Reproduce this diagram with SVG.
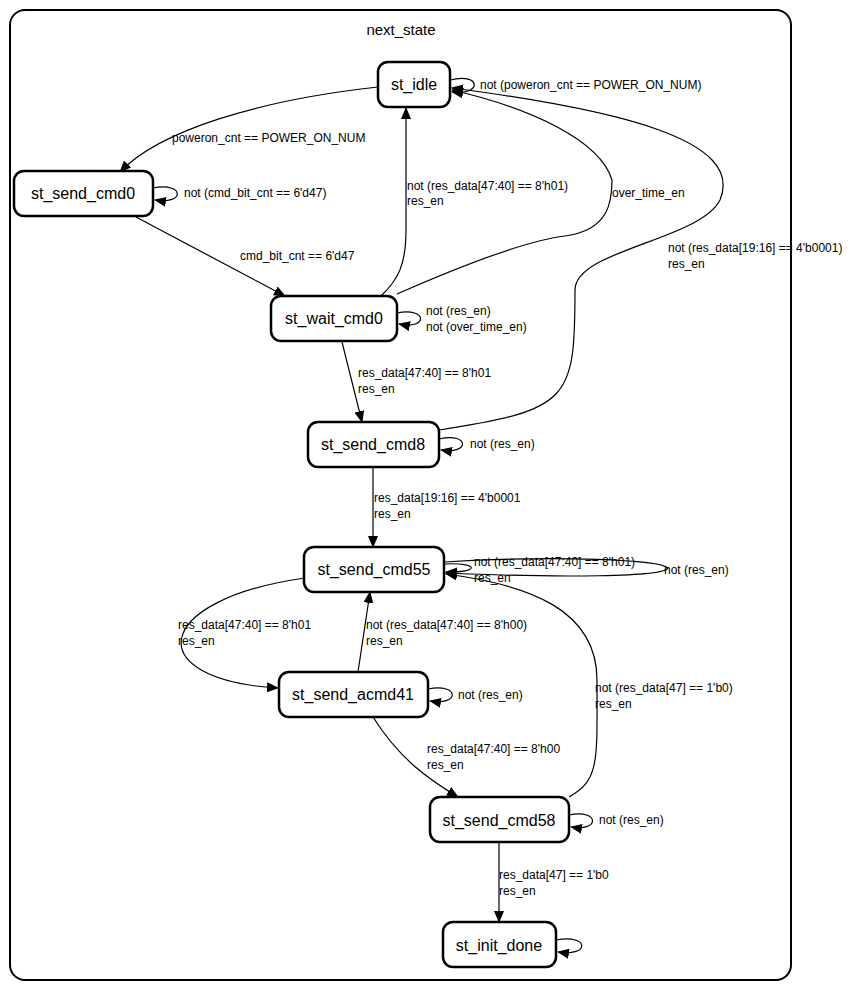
<svg xmlns="http://www.w3.org/2000/svg" width="868" height="995" viewBox="0 0 868 995">
<style>
.n rect{fill:#fff;stroke:#000;stroke-width:2.5}
.n text{font-family:"Liberation Sans",Arial,sans-serif;font-size:16px;text-anchor:middle}
.e path{fill:none;stroke:#000;stroke-width:1.2;marker-end:url(#a)}
.l{font-family:"Liberation Sans",Arial,sans-serif;font-size:12px}
</style>
<defs><marker id="a" markerWidth="12" markerHeight="10" refX="11" refY="5" orient="auto" markerUnits="userSpaceOnUse"><path d="M0,0 L12,5 L0,10 z" fill="#000"/></marker></defs>
<rect x="10" y="10" width="781" height="970" rx="15" fill="#fff" stroke="#000" stroke-width="2"/>
<text x="401" y="35" class="l" style="font-size:15px" text-anchor="middle">next_state</text>
<g class="e" id="edges">
<path d="M378,87 C260,100 160,130 120,172"/>
<path d="M450,80 C482,72 482,96 452,92"/>
<path d="M153,188 C185,182 185,205 155,200"/>
<path d="M136,217 L285,296"/>
<path d="M381,296 C398,280 406,265 406,230 L406,108"/>
<path d="M397,294 C470,262 530,240 565,236 C610,230 612,200 612,180 C600,140 530,108 452,90"/>
<path d="M439,430 C570,410 575,400 575,290 C575,250 700,240 720,200 C745,140 620,110 452,88"/>
<path d="M397,313 C428,307 428,330 399,324"/>
<path d="M342,342 L362,422"/>
<path d="M439,439 C470,432 470,455 441,450"/>
<path d="M373,467 L373,547"/>
<path d="M444,564 C480,562 480,573 446,572"/>
<path d="M444,562 C560,555 660,560 668,568 C665,577 560,578 446,573"/>
<path d="M305,578 C150,600 140,680 278,688"/>
<path d="M358,672 L370,592"/>
<path d="M428,689 C460,683 460,706 430,701"/>
<path d="M373,717 C400,760 430,780 458,797"/>
<path d="M569,797 C600,780 597,760 597,680 C597,610 530,585 446,574"/>
<path d="M569,815 C600,809 600,832 571,827"/>
<path d="M499,842 L499,922"/>
<path d="M556,940 C590,934 590,957 558,952"/>
</g>
<g class="l">
<text x="480" y="89">not (poweron_cnt == POWER_ON_NUM)</text>
<text x="172" y="142">poweron_cnt == POWER_ON_NUM</text>
<text x="184" y="197">not (cmd_bit_cnt == 6'd47)</text>
<text x="240" y="260">cmd_bit_cnt == 6'd47</text>
<text x="407" y="190">not (res_data[47:40] == 8'h01)</text>
<text x="407" y="205">res_en</text>
<text x="612" y="197">over_time_en</text>
<text x="668" y="252">not (res_data[19:16] == 4'b0001)</text>
<text x="668" y="268">res_en</text>
<text x="426" y="315">not (res_en)</text>
<text x="426" y="331">not (over_time_en)</text>
<text x="358" y="377">res_data[47:40] == 8'h01</text>
<text x="358" y="393">res_en</text>
<text x="470" y="448">not (res_en)</text>
<text x="374" y="502">res_data[19:16] == 4'b0001</text>
<text x="374" y="518">res_en</text>
<text x="474" y="566">not (res_data[47:40] == 8'h01)</text>
<text x="474" y="582">res_en</text>
<text x="664" y="574">not (res_en)</text>
<text x="178" y="629">res_data[47:40] == 8'h01</text>
<text x="178" y="645">res_en</text>
<text x="366" y="629">not (res_data[47:40] == 8'h00)</text>
<text x="366" y="645">res_en</text>
<text x="458" y="699">not (res_en)</text>
<text x="595" y="692">not (res_data[47] == 1'b0)</text>
<text x="595" y="708">res_en</text>
<text x="427" y="753">res_data[47:40] == 8'h00</text>
<text x="427" y="769">res_en</text>
<text x="599" y="824">not (res_en)</text>
<text x="499" y="879">res_data[47] == 1'b0</text>
<text x="499" y="895">res_en</text>
</g>
<g class="n" id="st_idle"><rect x="378" y="62" width="72" height="45" rx="10"/><text x="414" y="90">st_idle</text></g>
<g class="n" id="st_send_cmd0"><rect x="14" y="171" width="139" height="45" rx="10"/><text x="83" y="199">st_send_cmd0</text></g>
<g class="n" id="st_wait_cmd0"><rect x="271" y="296" width="126" height="45" rx="10"/><text x="334" y="324">st_wait_cmd0</text></g>
<g class="n" id="st_send_cmd8"><rect x="308" y="422" width="131" height="45" rx="10"/><text x="373" y="450">st_send_cmd8</text></g>
<g class="n" id="st_send_cmd55"><rect x="304" y="547" width="140" height="45" rx="10"/><text x="374" y="575">st_send_cmd55</text></g>
<g class="n" id="st_send_acmd41"><rect x="279" y="672" width="149" height="45" rx="10"/><text x="353" y="700">st_send_acmd41</text></g>
<g class="n" id="st_send_cmd58"><rect x="430" y="797" width="139" height="45" rx="10"/><text x="499" y="826">st_send_cmd58</text></g>
<g class="n" id="st_init_done"><rect x="443" y="922" width="113" height="45" rx="10"/><text x="499" y="951">st_init_done</text></g>
</svg>
